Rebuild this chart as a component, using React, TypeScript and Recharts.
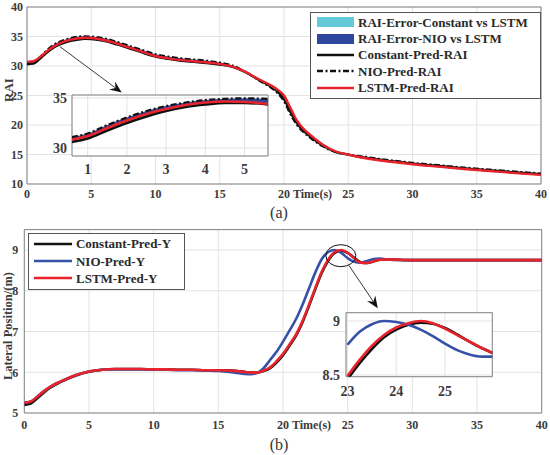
import React from 'react'
import {
  ComposedChart,
  LineChart,
  Line,
  Area,
  XAxis,
  YAxis,
  CartesianGrid,
  Legend,
  ReferenceLine,
  ReferenceDot,
  ReferenceArea,
} from 'recharts'

// ── Data: (a) RAI over time ───────────────────────────────────────────────────

const RAI_T = [
  0, 0.5, 1, 1.5, 2, 2.5, 3, 3.5, 4, 4.5,
  5, 6, 7, 8, 9, 10, 11, 12, 13, 14,
  15, 16, 17, 18, 19, 19.5, 20, 20.5, 21, 21.5,
  22, 22.5, 23, 24, 25, 26, 27, 28, 29, 30,
  32, 34, 36, 38, 40,
]
const RAI_CONST = [
  30.3, 30.4, 31.2, 32.2, 33.0, 33.6, 34.0, 34.3, 34.5, 34.6,
  34.55, 34.25, 33.65, 32.95, 32.25, 31.6, 31.2, 30.9, 30.7, 30.5,
  30.25, 29.85, 28.95, 27.7, 26.5, 25.7, 24.5, 22.3, 20.4, 19.1,
  18.15, 17.3, 16.55, 15.45, 14.98, 14.55, 14.25, 13.95, 13.7, 13.45,
  13.05, 12.65, 12.3, 11.95, 11.65,
]
const RAI_NIO = [
  30.4, 30.6, 31.5, 32.6, 33.5, 34.1, 34.5, 34.8, 35.0, 35.05,
  35.0, 34.7, 34.1, 33.4, 32.7, 32.0, 31.6, 31.3, 31.1, 30.9,
  30.6, 30.1, 29.0, 27.6, 26.3, 25.4, 24.0, 21.8, 20.0, 18.8,
  17.9, 17.1, 16.4, 15.4, 15.0, 14.7, 14.4, 14.1, 13.85, 13.6,
  13.2, 12.8, 12.45, 12.1, 11.8,
]
const RAI_LSTM = [
  30.7, 30.8, 31.5, 32.4, 33.2, 33.8, 34.2, 34.5, 34.7, 34.8,
  34.75, 34.4, 33.8, 33.1, 32.4, 31.7, 31.3, 31.0, 30.8, 30.6,
  30.35, 29.9, 29.0, 27.8, 26.7, 26.0, 25.0, 22.9, 20.8, 19.4,
  18.4, 17.5, 16.7, 15.55, 15.0, 14.5, 14.15, 13.85, 13.6, 13.35,
  12.95, 12.55, 12.2, 11.85, 11.55,
]

// zoomed window of (a)
const RAI_ZOOM_T     = [0.6, 1, 1.5, 2, 2.5, 3, 3.5, 4, 4.5, 5, 5.5, 5.6]
const RAI_ZOOM_CONST = [30.6, 30.95, 31.75, 32.5, 33.15, 33.7, 34.1, 34.35, 34.5, 34.5, 34.4, 34.35]
const RAI_ZOOM_NIO   = [31.1, 31.45, 32.3, 33.05, 33.7, 34.2, 34.55, 34.8, 34.92, 34.97, 34.93, 34.92]
const RAI_ZOOM_LSTM  = [30.85, 31.2, 32.0, 32.75, 33.4, 33.9, 34.3, 34.55, 34.65, 34.6, 34.45, 34.4]

// ── Data: (b) lateral position ────────────────────────────────────────────────

const Y_T = [
  0, 0.5, 1, 1.5, 2, 2.5, 3, 4, 5, 6,
  7, 8, 9, 10, 11, 12, 13, 14, 15, 16,
  17, 17.5, 18, 18.5, 19, 19.5, 20, 20.5, 21, 21.5,
  22, 22.5, 23, 23.5, 24, 24.5, 25, 25.5, 26, 26.5,
  27, 27.5, 28, 29, 30, 32, 34, 36, 38, 40,
]
const Y_CONST = [
  5.2, 5.23, 5.36, 5.5, 5.62, 5.71, 5.79, 5.92, 6.01, 6.06,
  6.08, 6.08, 6.08, 6.07, 6.07, 6.06, 6.06, 6.05, 6.05, 6.04,
  6.01, 5.99, 5.99, 6.03, 6.1, 6.24, 6.42, 6.65, 6.89, 7.22,
  7.62, 8.04, 8.44, 8.74, 8.93, 8.98, 8.93, 8.81, 8.7, 8.68,
  8.72, 8.76, 8.77, 8.76, 8.75, 8.75, 8.75, 8.75, 8.75, 8.75,
]
const Y_NIO = [
  5.25, 5.28, 5.4, 5.53, 5.64, 5.73, 5.8, 5.93, 6.02, 6.06,
  6.07, 6.07, 6.07, 6.06, 6.06, 6.05, 6.05, 6.04, 6.03, 6.0,
  5.96, 5.95, 5.98, 6.1, 6.3, 6.5, 6.75, 7.02, 7.3, 7.65,
  8.05, 8.45, 8.78, 8.95, 9.0, 8.93, 8.8, 8.71, 8.69, 8.73,
  8.78, 8.79, 8.77, 8.75, 8.75, 8.75, 8.75, 8.75, 8.75, 8.75,
]
const Y_LSTM = [
  5.25, 5.28, 5.4, 5.53, 5.64, 5.73, 5.8, 5.93, 6.02, 6.06,
  6.08, 6.08, 6.08, 6.07, 6.07, 6.06, 6.06, 6.05, 6.05, 6.04,
  6.01, 5.99, 5.99, 6.04, 6.12, 6.27, 6.45, 6.68, 6.92, 7.25,
  7.65, 8.07, 8.47, 8.77, 8.95, 9.0, 8.93, 8.8, 8.69, 8.68,
  8.72, 8.76, 8.77, 8.76, 8.75, 8.75, 8.75, 8.75, 8.75, 8.75,
]

// zoomed window of (b)
const Y_ZOOM_T     = [23, 23.25, 23.5, 23.75, 24, 24.25, 24.5, 24.75, 25, 25.25, 25.5, 25.75, 26]
const Y_ZOOM_CONST = [8.46, 8.61, 8.74, 8.85, 8.92, 8.965, 8.985, 8.975, 8.935, 8.875, 8.81, 8.75, 8.7]
const Y_ZOOM_NIO   = [8.78, 8.9, 8.97, 9.0, 8.99, 8.965, 8.92, 8.86, 8.79, 8.73, 8.69, 8.67, 8.67]
const Y_ZOOM_LSTM  = [8.49, 8.64, 8.77, 8.87, 8.94, 8.98, 9.0, 8.98, 8.93, 8.87, 8.81, 8.75, 8.7]

// ── Ticks ─────────────────────────────────────────────────────────────────────

const TIME_TICKS      = [0, 5, 10, 15, 20, 25, 30, 35, 40]
const RAI_TICKS       = [10, 15, 20, 25, 30, 35, 40]
const Y_TICKS         = [5, 6, 7, 8, 9]
const RAI_ZOOM_XTICKS = [1, 2, 3, 4, 5]
const RAI_ZOOM_YTICKS = [30, 35]
const Y_ZOOM_XTICKS   = [23, 24, 25]
const Y_ZOOM_YTICKS   = [8.5, 9]

// ── Styles ────────────────────────────────────────────────────────────────────

const FONT  = '"Liberation Serif", "Times New Roman", Times, serif'
const RED   = '#e8232b'
const BLUE  = '#3552a8'
const CYAN  = '#64c9d9'
const NAVY  = '#2d479f'
const INK   = '#111111'
const GRID  = '#e3e3e3'
const FRAME = '#858585'
const LABEL = '#3b3b3b'

const TICK      = { fontFamily: FONT, fontSize: 12, fontWeight: 700, fill: LABEL }
const ZOOM_TICK = { fontFamily: FONT, fontSize: 14, fontWeight: 700, fill: LABEL }

// ── Rows ──────────────────────────────────────────────────────────────────────

// error bands are stacked: an invisible floor plus the gap between two curves
const bandRow = (c: number, n: number, l: number) => ({
  cLo:  Math.min(c, l),
  cGap: Math.abs(c - l),
  nLo:  Math.min(n, l),
  nGap: Math.abs(n - l),
})

const raiRows = RAI_T.map((t, i) => ({
  t,
  c: RAI_CONST[i],
  n: RAI_NIO[i],
  l: RAI_LSTM[i],
  ...bandRow(RAI_CONST[i], RAI_NIO[i], RAI_LSTM[i]),
}))

const raiZoomRows = RAI_ZOOM_T.map((t, i) => ({
  t,
  c: RAI_ZOOM_CONST[i],
  n: RAI_ZOOM_NIO[i],
  l: RAI_ZOOM_LSTM[i],
  ...bandRow(RAI_ZOOM_CONST[i], RAI_ZOOM_NIO[i], RAI_ZOOM_LSTM[i]),
}))

const yRows = Y_T.map((t, i) => ({ t, c: Y_CONST[i], n: Y_NIO[i], l: Y_LSTM[i] }))
const yZoomRows = Y_ZOOM_T.map((t, i) => ({
  t, c: Y_ZOOM_CONST[i], n: Y_ZOOM_NIO[i], l: Y_ZOOM_LSTM[i],
}))

// ── Small shapes ──────────────────────────────────────────────────────────────

/** x tick; the 20 s tick also carries the axis title, as in the figure */
function TimeTick(props: any) {
  const { x, y, payload } = props
  return (
    <g>
      <text x={x} y={y} dy="0.71em" textAnchor="middle" {...TICK}>
        {payload.value}
      </text>
      {payload.value === 20 && (
        <text x={x + 9} y={y} dy="0.71em" textAnchor="start" {...TICK}>
          Time(s)
        </text>
      )}
    </g>
  )
}

/** thin line with a barbed head at (x2, y2) */
function Arrow(props: any) {
  const { x1, y1, x2, y2 } = props
  const a = Math.atan2(y2 - y1, x2 - x1)
  const cos = Math.cos(a)
  const sin = Math.sin(a)
  const L = 12
  const W = 5
  const bx = x2 - L * cos
  const by = y2 - L * sin
  const nx = x2 - 0.65 * L * cos
  const ny = y2 - 0.65 * L * sin
  const pts = [
    [x2, y2],
    [bx + W * sin, by - W * cos],
    [nx, ny],
    [bx - W * sin, by + W * cos],
  ].map((p) => p.join(',')).join(' ')
  return (
    <g>
      <line x1={x1} y1={y1} x2={nx} y2={ny} stroke="#222" strokeWidth={0.9} />
      <polygon points={pts} fill="#111" />
    </g>
  )
}

function Ring(props: any) {
  return <ellipse cx={props.cx} cy={props.cy} rx={15} ry={11} fill="none" stroke="#111" strokeWidth={1} />
}

// ── Legends ───────────────────────────────────────────────────────────────────

type Key = { label: string; kind: 'box' | 'line'; color: string; dash?: string }

const RAI_KEYS: Key[] = [
  { label: 'RAI-Error-Constant vs LSTM', kind: 'box',  color: CYAN },
  { label: 'RAI-Error-NIO vs LSTM',      kind: 'box',  color: NAVY },
  { label: 'Constant-Pred-RAI',          kind: 'line', color: INK },
  { label: 'NIO-Pred-RAI',               kind: 'line', color: INK, dash: '6 2.5 2 2.5' },
  { label: 'LSTM-Pred-RAI',              kind: 'line', color: RED },
]

const Y_KEYS: Key[] = [
  { label: 'Constant-Pred-Y', kind: 'line', color: INK },
  { label: 'NIO-Pred-Y',      kind: 'line', color: BLUE },
  { label: 'LSTM-Pred-Y',     kind: 'line', color: RED },
]

function KeyBox({ keys, width, row, iconX, iconW, textX }: {
  keys: Key[]; width: number; row: number; iconX: number; iconW: number; textX: number
}) {
  return (
    <div
      style={{
        width,
        boxSizing:  'border-box',
        border:     '1px solid #555',
        background: '#fff',
        padding:    '1px 0 2px',
        fontFamily: FONT,
        fontWeight: 700,
        fontSize:   13,
        color:      '#2a2a2a',
      }}
    >
      {keys.map((k) => (
        <div key={k.label} style={{ display: 'flex', alignItems: 'center', height: row }}>
          <svg width={textX} height={12} style={{ flex: 'none' }}>
            {k.kind === 'box' ? (
              <rect x={iconX} y={1} width={iconW} height={10} fill={k.color} />
            ) : (
              <line
                x1={iconX} x2={iconX + iconW} y1={6} y2={6}
                stroke={k.color} strokeWidth={2.6} strokeDasharray={k.dash}
              />
            )}
          </svg>
          <span style={{ whiteSpace: 'nowrap', lineHeight: 1 }}>{k.label}</span>
        </div>
      ))}
    </div>
  )
}

// ── Charts ────────────────────────────────────────────────────────────────────

function Bands() {
  return [
    <Area key="cLo"  type="monotone" dataKey="cLo"  stackId="cb" fill="none" stroke="none" isAnimationActive={false} legendType="none" />,
    <Area key="cGap" type="monotone" dataKey="cGap" stackId="cb" fill={CYAN} fillOpacity={1} stroke="none" isAnimationActive={false} legendType="none" />,
    <Area key="nLo"  type="monotone" dataKey="nLo"  stackId="nb" fill="none" stroke="none" isAnimationActive={false} legendType="none" />,
    <Area key="nGap" type="monotone" dataKey="nGap" stackId="nb" fill={NAVY} fillOpacity={1} stroke="none" isAnimationActive={false} legendType="none" />,
  ]
}

function RaiChart() {
  return (
    <ComposedChart width={550} height={206} data={raiRows} margin={{ top: 7, right: 9, bottom: 0, left: 0 }}>
      <CartesianGrid stroke={GRID} />
      <XAxis
        dataKey="t" type="number" domain={[0, 40]} ticks={TIME_TICKS} interval={0}
        allowDataOverflow height={22} tickLine={false} tickSize={0} tickMargin={5}
        axisLine={false} tick={<TimeTick />}
      />
      <YAxis
        type="number" domain={[10, 40]} ticks={RAI_TICKS} interval={0} allowDataOverflow
        width={27} tickLine={false} tickSize={0} tickMargin={4} axisLine={false} tick={TICK}
      />
      <ReferenceArea x1={0} x2={40} y1={10} y2={40} fill="none" stroke={FRAME} ifOverflow="visible" />
      <Legend
        layout="horizontal" verticalAlign="middle" align="center"
        wrapperStyle={{ left: 310, top: 12, width: 'auto', height: 'auto' }}
        content={() => <KeyBox keys={RAI_KEYS} width={231} row={16.4} iconX={6} iconW={37} textX={47} />}
      />
      {Bands()}
      <Line type="monotone" dataKey="c" stroke={INK} strokeWidth={2.4} dot={false} isAnimationActive={false} />
      <Line type="monotone" dataKey="n" stroke={INK} strokeWidth={2} strokeDasharray="6 2.5 2 2.5" dot={false} isAnimationActive={false} />
      <Line type="monotone" dataKey="l" stroke={RED} strokeWidth={2.4} dot={false} isAnimationActive={false} />
      <ReferenceLine
        segment={[{ x: 2.55, y: 33.3 }, { x: 7.37, y: 25.5 }]}
        ifOverflow="visible" shape={Arrow}
      />
    </ComposedChart>
  )
}

function RaiZoom() {
  return (
    <ComposedChart width={230} height={95} data={raiZoomRows} margin={{ top: 5, right: 2, bottom: 0, left: 0 }}>
      <CartesianGrid stroke={GRID} fill="#fff" fillOpacity={1} />
      <XAxis
        dataKey="t" type="number" domain={[0.6, 5.6]} ticks={RAI_ZOOM_XTICKS} interval={0}
        allowDataOverflow height={29} tickLine={false} tickSize={0} tickMargin={8}
        axisLine={false} tick={ZOOM_TICK}
      />
      <YAxis
        type="number" domain={[29.2, 35.3]} ticks={RAI_ZOOM_YTICKS} interval={0} allowDataOverflow
        width={32} tickLine={false} tickSize={0} tickMargin={5} axisLine={false} tick={ZOOM_TICK}
      />
      <ReferenceArea x1={0.6} x2={5.6} y1={29.2} y2={35.3} fill="none" stroke={FRAME} ifOverflow="visible" />
      {Bands()}
      <Line type="monotone" dataKey="c" stroke={INK} strokeWidth={2.6} dot={false} isAnimationActive={false} />
      <Line type="monotone" dataKey="n" stroke={INK} strokeWidth={2.2} strokeDasharray="6 2.5 2 2.5" dot={false} isAnimationActive={false} />
      <Line type="monotone" dataKey="l" stroke={RED} strokeWidth={2.6} dot={false} isAnimationActive={false} />
    </ComposedChart>
  )
}

function LateralChart() {
  return (
    <ComposedChart width={550} height={215} data={yRows} margin={{ top: 9.6, right: 8.3, bottom: 0, left: 0 }}>
      <CartesianGrid stroke={GRID} />
      <XAxis
        dataKey="t" type="number" domain={[0, 40]} ticks={TIME_TICKS} interval={0}
        allowDataOverflow height={22} tickLine={false} tickSize={0} tickMargin={7}
        axisLine={false} tick={<TimeTick />}
      />
      <YAxis
        type="number" domain={[5, 9.5]} ticks={Y_TICKS} interval={0} allowDataOverflow
        width={24.3} tickLine={false} tickSize={0} tickMargin={6} axisLine={false} tick={TICK}
      />
      <ReferenceArea x1={0} x2={40} y1={5} y2={9.5} fill="none" stroke={FRAME} ifOverflow="visible" />
      <Legend
        layout="horizontal" verticalAlign="middle" align="center"
        wrapperStyle={{ left: 28.3, top: 13.3, width: 'auto', height: 'auto' }}
        content={() => <KeyBox keys={Y_KEYS} width={157} row={17.2} iconX={5} iconW={38} textX={46.7} />}
      />
      <Line type="monotone" dataKey="c" stroke={INK} strokeWidth={2.6} dot={false} isAnimationActive={false} />
      <Line type="monotone" dataKey="n" stroke={BLUE} strokeWidth={2.6} dot={false} isAnimationActive={false} />
      <Line type="monotone" dataKey="l" stroke={RED} strokeWidth={2.6} dot={false} isAnimationActive={false} />
      <ReferenceDot x={24.47} y={8.86} r={11} ifOverflow="visible" shape={Ring} />
      <ReferenceLine
        segment={[{ x: 25.1, y: 8.62 }, { x: 27.33, y: 7.57 }]}
        ifOverflow="visible" shape={Arrow}
      />
    </ComposedChart>
  )
}

function LateralZoom() {
  return (
    <LineChart width={200} height={100} data={yZoomRows} margin={{ top: 7.7, right: 7.7, bottom: 0, left: 0 }}>
      <CartesianGrid stroke={GRID} fill="#fff" fillOpacity={1} />
      <XAxis
        dataKey="t" type="number" domain={[22.97, 25.97]} ticks={Y_ZOOM_XTICKS} interval={0}
        allowDataOverflow height={28.3} tickLine={false} tickSize={0} tickMargin={9}
        axisLine={false} tick={ZOOM_TICK}
      />
      <YAxis
        type="number" domain={[8.484, 9.077]} ticks={Y_ZOOM_YTICKS} interval={0} allowDataOverflow
        width={46} tickLine={false} tickSize={0} tickMargin={6} axisLine={false} tick={ZOOM_TICK}
      />
      <ReferenceArea x1={22.97} x2={25.97} y1={8.484} y2={9.077} fill="none" stroke={FRAME} ifOverflow="visible" />
      <Line type="monotone" dataKey="c" stroke={INK} strokeWidth={2.6} dot={false} isAnimationActive={false} />
      <Line type="monotone" dataKey="n" stroke={BLUE} strokeWidth={2.6} dot={false} isAnimationActive={false} />
      <Line type="monotone" dataKey="l" stroke={RED} strokeWidth={2.6} dot={false} isAnimationActive={false} />
    </LineChart>
  )
}

// ── Page ──────────────────────────────────────────────────────────────────────

const abs = (left: number, top: number): React.CSSProperties => ({ position: 'absolute', left, top })

const axisTitle: React.CSSProperties = {
  position:   'absolute',
  fontFamily: FONT,
  fontWeight: 700,
  fontSize:   13,
  color:      LABEL,
  whiteSpace: 'nowrap',
  transform:  'translate(-50%, -50%) rotate(-90deg)',
}

const caption: React.CSSProperties = {
  position:   'absolute',
  fontFamily: FONT,
  fontSize:   16,
  color:      '#333',
  transform:  'translate(-50%, -50%)',
}

export default function App() {
  return (
    <div style={{ position: 'relative', width: 550, height: 455, background: '#fff', overflow: 'hidden' }}>
      <style>{'body{margin:0}'}</style>

      <div style={abs(0, 0)}><RaiChart /></div>
      <div style={abs(40, 90)}><RaiZoom /></div>
      <div style={{ ...axisTitle, left: 9, top: 90 }}>RAI</div>
      <div style={{ ...caption, left: 279, top: 213 }}>(a)</div>

      <div style={abs(0, 220)}><LateralChart /></div>
      <div style={abs(300, 305)}><LateralZoom /></div>
      <div style={{ ...axisTitle, left: 7.5, top: 326, fontSize: 12.5 }}>Lateral Position/(m)</div>
      <div style={{ ...caption, left: 279, top: 445 }}>(b)</div>
    </div>
  )
}
